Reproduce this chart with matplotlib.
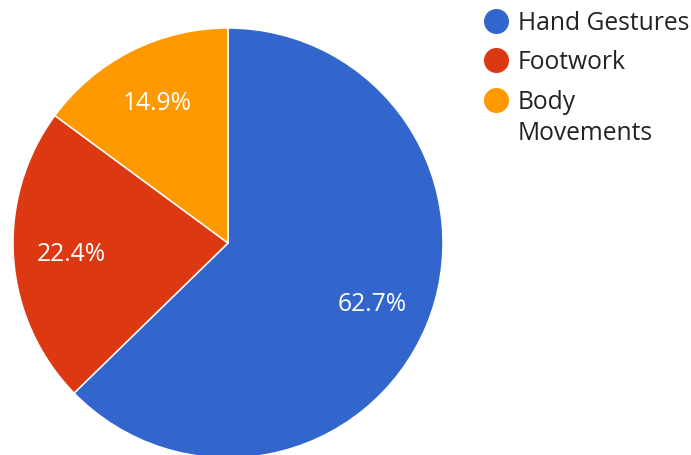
import matplotlib
matplotlib.use('Agg')
import matplotlib.pyplot as plt
from matplotlib.lines import Line2D

plt.rcParams['font.family'] = ['Open Sans', 'DejaVu Sans']

labels = ['Hand Gestures', 'Footwork', 'Body Movements']
legend_lines = [['Hand Gestures'], ['Footwork'], ['Body', 'Movements']]
shares = [62.7, 22.4, 14.9]
colors = ['#3366CC', '#DC3912', '#FF9900']

W, H = 691, 456
fig = plt.figure(figsize=(W / 100, H / 100), dpi=100)

# pie: centre (228, 244) px from top-left, radius 215 px
cx, cy, r = 228, 244, 215
ax = fig.add_axes([(cx - r) / W, (H - cy - r) / H, 2 * r / W, 2 * r / H])
wedges, texts, autotexts = ax.pie(
    shares, colors=colors, startangle=90, counterclock=False,
    autopct='%.1f%%', pctdistance=0.73,
    wedgeprops=dict(edgecolor='white', linewidth=1.1),
    textprops=dict(color='white', fontsize=17.7))
ax.set_xlim(-1, 1)
ax.set_ylim(-1, 1)
ax.set_aspect('equal')
ax.axis('off')

# legend drawn by hand so the dot lines up with the first text line
dot_y = [22, 61, 101]
for i, lines in enumerate(legend_lines):
    fig.add_artist(Line2D([496 / W], [1 - dot_y[i] / H], marker='o',
                          markersize=17, color=colors[i], linestyle='none',
                          transform=fig.transFigure))
    for j, t in enumerate(lines):
        base = dot_y[i] + 8 + 31 * j
        fig.text(518 / W, 1 - base / H, t, fontsize=17.7, color='#222222',
                 va='baseline', ha='left')

fig.savefig('out.png', dpi=100)
